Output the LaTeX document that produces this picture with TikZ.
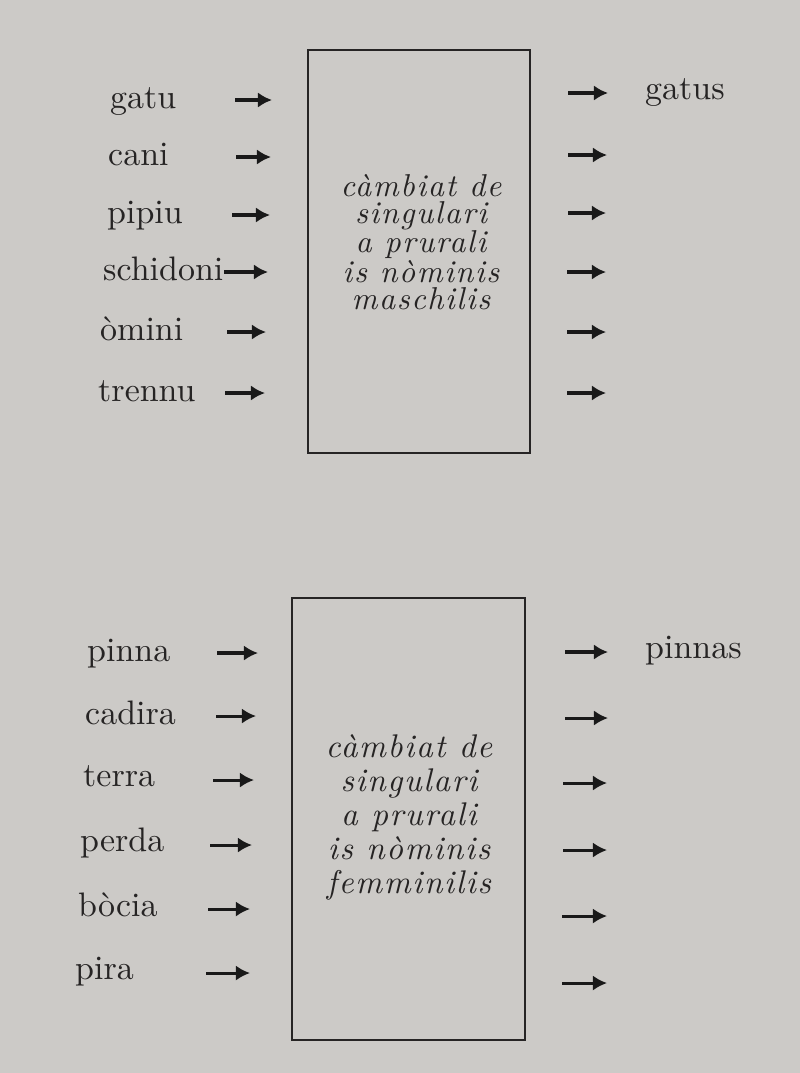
\documentclass[tikz,border=0pt]{standalone}
\usepackage{fontspec}
\usetikzlibrary{arrows.meta}
\newfontfamily\wordfont{lmroman10-regular.otf}
\newfontfamily\glossfont{lmroman10-italic.otf}[LetterSpace=5]
\definecolor{page}{RGB}{204,202,199}
\definecolor{ink}{RGB}{38,36,36}
\tikzset{
  word/.style={anchor=base west, inner sep=0pt, text=ink, font=\wordfont\fontsize{29}{32}\selectfont},
  rulebox/.style={draw=ink, line width=0.9pt, inner sep=0pt},
  gloss/.style n args={2}{align=center, inner sep=0pt, text=ink, font=\glossfont\fontsize{#1}{#2}\selectfont},
  arr/.style={-{Latex[length=12pt,width=13pt]}, line width=2.6pt, draw=black!90},
}
\begin{document}
\begin{tikzpicture}[scale=0.3]
\fill[page] (0,0) rectangle (80,-107.3);
\useasboundingbox (0,0) rectangle (80,-107.3);

% nòminis maschilis
\node[rulebox, minimum width=6.66cm, minimum height=12.09cm] (mbox) at (41.9,-25.15) {};
\node[gloss={27}{23}] (mtext) at (42.1,-24.2) {càmbiat de\\singulari\\a prurali\\is nòminis\\maschilis};
\node[word] (gatu) at (11.0,-10.8) {gatu};
\node[word] (cani) at (10.8,-16.5) {cani};
\node[word] (pipiu) at (10.7,-22.3) {pipiu};
\node[word] (schidoni) at (10.3,-28.0) {schidoni};
\node[word] (omini) at (10.0,-34.0) {òmini};
\node[word] (trennu) at (9.8,-40.1) {trennu};
\node[word] (gatus) at (64.5,-10.0) {gatus};
\coordinate (mi1a) at (23.5,-10.0); \coordinate (mi1b) at (27.2,-10.0);
\coordinate (mi2a) at (23.6,-15.7); \coordinate (mi2b) at (27.1,-15.7);
\coordinate (mi3a) at (23.2,-21.5); \coordinate (mi3b) at (27.0,-21.5);
\coordinate (mi4a) at (22.4,-27.2); \coordinate (mi4b) at (26.8,-27.2);
\coordinate (mi5a) at (22.7,-33.2); \coordinate (mi5b) at (26.6,-33.2);
\coordinate (mi6a) at (22.5,-39.3); \coordinate (mi6b) at (26.5,-39.3);
\coordinate (mo1a) at (56.8,-9.3);  \coordinate (mo1b) at (60.8,-9.3);
\coordinate (mo2a) at (56.8,-15.5); \coordinate (mo2b) at (60.7,-15.5);
\coordinate (mo3a) at (56.8,-21.3); \coordinate (mo3b) at (60.6,-21.3);
\coordinate (mo4a) at (56.7,-27.2); \coordinate (mo4b) at (60.6,-27.2);
\coordinate (mo5a) at (56.7,-33.2); \coordinate (mo5b) at (60.6,-33.2);
\coordinate (mo6a) at (56.7,-39.3); \coordinate (mo6b) at (60.6,-39.3);
\draw[arr] (mi1a) -- (mi1b);
\draw[arr] (mi2a) -- (mi2b);
\draw[arr] (mi3a) -- (mi3b);
\draw[arr] (mi4a) -- (mi4b);
\draw[arr] (mi5a) -- (mi5b);
\draw[arr] (mi6a) -- (mi6b);
\draw[arr] (mo1a) -- (mo1b);
\draw[arr] (mo2a) -- (mo2b);
\draw[arr] (mo3a) -- (mo3b);
\draw[arr] (mo4a) -- (mo4b);
\draw[arr] (mo5a) -- (mo5b);
\draw[arr] (mo6a) -- (mo6b);

% nòminis femminilis
\node[rulebox, minimum width=6.99cm, minimum height=13.26cm] (fbox) at (40.85,-81.9) {};
\node[gloss={28}{29}] (ftext) at (40.9,-81.7) {càmbiat de\\singulari\\a prurali\\is nòminis\\femminilis};
\node[word] (pinna) at (8.7,-66.1) {pinna};
\node[word] (cadira) at (8.5,-72.4) {cadira};
\node[word] (terra) at (8.3,-78.6) {terra};
\node[word] (perda) at (8.0,-85.1) {perda};
\node[word] (bocia) at (7.8,-91.6) {bòcia};
\node[word] (pira) at (7.5,-97.9) {pira};
\node[word] (pinnas) at (64.5,-65.8) {pinnas};
\coordinate (fi1a) at (21.7,-65.3); \coordinate (fi1b) at (25.8,-65.3);
\coordinate (fi2a) at (21.6,-71.6); \coordinate (fi2b) at (25.6,-71.6);
\coordinate (fi3a) at (21.3,-78.0); \coordinate (fi3b) at (25.4,-78.0);
\coordinate (fi4a) at (21.0,-84.5); \coordinate (fi4b) at (25.2,-84.5);
\coordinate (fi5a) at (20.8,-90.9); \coordinate (fi5b) at (25.0,-90.9);
\coordinate (fi6a) at (20.6,-97.3); \coordinate (fi6b) at (25.0,-97.3);
\coordinate (fo1a) at (56.5,-65.2); \coordinate (fo1b) at (60.8,-65.2);
\coordinate (fo2a) at (56.5,-71.8); \coordinate (fo2b) at (60.8,-71.8);
\coordinate (fo3a) at (56.3,-78.3); \coordinate (fo3b) at (60.7,-78.3);
\coordinate (fo4a) at (56.3,-85.0); \coordinate (fo4b) at (60.7,-85.0);
\coordinate (fo5a) at (56.2,-91.6); \coordinate (fo5b) at (60.7,-91.6);
\coordinate (fo6a) at (56.2,-98.3); \coordinate (fo6b) at (60.7,-98.3);
\draw[arr] (fi1a) -- (fi1b);
\draw[arr] (fi2a) -- (fi2b);
\draw[arr] (fi3a) -- (fi3b);
\draw[arr] (fi4a) -- (fi4b);
\draw[arr] (fi5a) -- (fi5b);
\draw[arr] (fi6a) -- (fi6b);
\draw[arr] (fo1a) -- (fo1b);
\draw[arr] (fo2a) -- (fo2b);
\draw[arr] (fo3a) -- (fo3b);
\draw[arr] (fo4a) -- (fo4b);
\draw[arr] (fo5a) -- (fo5b);
\draw[arr] (fo6a) -- (fo6b);
\end{tikzpicture}
\end{document}
